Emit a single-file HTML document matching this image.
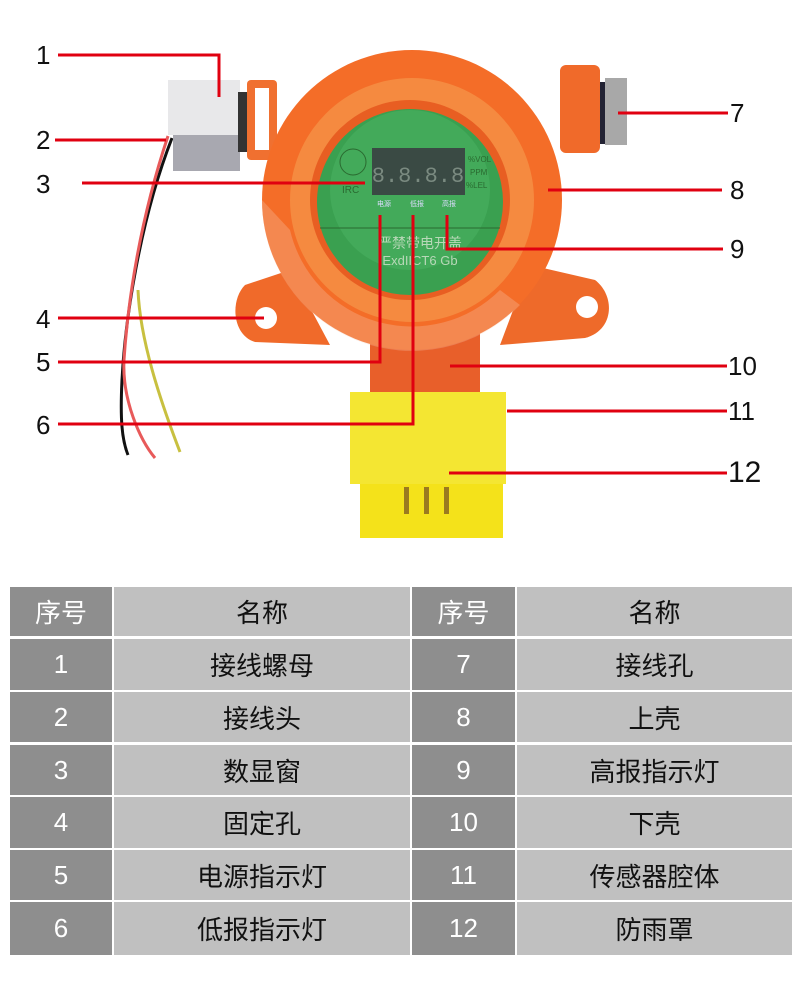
<!DOCTYPE html>
<html><head><meta charset="utf-8"><style>
body{margin:0;width:800px;height:993px;background:#fff;overflow:hidden;font-family:"Liberation Sans","Noto Sans CJK SC",sans-serif;}
svg{position:absolute;left:0;top:0}
.c{position:absolute;display:flex;align-items:center;justify-content:center;font-size:26px;}
.d{background:#8e8e8e;color:#fff;}
.l{background:#c0c0c0;color:#111;}
</style></head><body>
<svg width="800" height="560" viewBox="0 0 800 560">
<path d="M172,138 C140,220 125,320 122,380 C120,420 122,440 128,455" stroke="#111" stroke-width="3" fill="none"/>
<path d="M168,136 C140,220 128,300 124,360 C122,400 140,440 155,458" stroke="#e85a5a" stroke-width="3" fill="none"/>
<path d="M138,290 C140,340 160,400 180,452" stroke="#c8c040" stroke-width="3" fill="none"/>
<rect x="168" y="80" width="72" height="55" fill="#e8e8ea"/>
<rect x="173" y="135" width="67" height="36" fill="#a8a8b0"/>
<rect x="238" y="92" width="10" height="60" fill="#333"/>
<rect x="247" y="80" width="30" height="80" rx="4" fill="#f07030"/>
<rect x="255" y="88" width="14" height="62" fill="#fff"/>
<rect x="560" y="65" width="40" height="88" rx="6" fill="#f06a2a"/>
<rect x="600" y="82" width="6" height="62" fill="#223"/>
<rect x="605" y="78" width="22" height="67" fill="#a8a8a8"/>
<path d="M290,270 L245,285 C230,300 232,335 255,342 L330,345 Z" fill="#f06a2a"/>
<circle cx="266" cy="318" r="11" fill="#fff"/>
<path d="M530,265 L595,280 C615,295 615,330 585,338 L500,345 Z" fill="#ee6a2a"/>
<circle cx="587" cy="307" r="11" fill="#fff"/>
<rect x="370" y="330" width="110" height="70" fill="#e85f2a"/>
<circle cx="412" cy="200" r="150" fill="#f46d28"/>
<path d="M262,200 A150,150 0 0 0 520,305 L500,290 A125,125 0 0 1 290,230 Z" fill="#f5c6b0" opacity="0.3"/>
<circle cx="412" cy="200" r="122" fill="#f58a40"/>
<circle cx="410" cy="200" r="100" fill="#e85e22"/>
<circle cx="410" cy="202" r="93" fill="#3aa050"/>
<circle cx="410" cy="190" r="80" fill="#4ab060" opacity="0.6"/>
<line x1="320" y1="228" x2="500" y2="228" stroke="#2a6a30" stroke-width="1"/>
<rect x="372" y="148" width="93" height="47" fill="#3a4a44"/>
<text x="418" y="182" font-size="22" fill="#7a8a80" text-anchor="middle" font-family="Liberation Mono,monospace">8.8.8.8</text>
<text x="468" y="162" font-size="8" fill="#2a6a30">%VOL</text>
<text x="470" y="175" font-size="8" fill="#2a6a30">PPM</text>
<text x="466" y="188" font-size="8" fill="#2a6a30">%LEL</text>
<circle cx="353" cy="162" r="13" fill="none" stroke="#2a6a30"/>
<text x="342" y="193" font-size="10" fill="#2a6a30">IRC</text>
<text x="377" y="206" font-size="7" fill="#ddf">电源</text><text x="410" y="206" font-size="7" fill="#ddf">低报</text><text x="442" y="206" font-size="7" fill="#ddf">高报</text>
<text x="420" y="248" font-size="14" fill="#b8d8b8" text-anchor="middle">严禁带电开盖</text>
<text x="420" y="265" font-size="13" fill="#b8d8b8" text-anchor="middle">ExdIICT6 Gb</text>
<rect x="360" y="482" width="143" height="56" fill="#f4e21a"/>
<rect x="350" y="392" width="156" height="92" fill="#f4e632"/>
<rect x="404" y="487" width="5" height="27" fill="#9a7a20"/><rect x="424" y="487" width="5" height="27" fill="#9a7a20"/><rect x="444" y="487" width="5" height="27" fill="#9a7a20"/>
<g stroke="#e00010" stroke-width="3" fill="none">
<polyline points="58,55 219,55 219,97"/>
<line x1="55" y1="140" x2="166" y2="140"/>
<line x1="82" y1="183" x2="365" y2="183"/>
<line x1="58" y1="318" x2="264" y2="318"/>
<polyline points="58,362 380,362 380,215"/>
<polyline points="58,424 413,424 413,215"/>
<polyline points="447,215 447,249 723,249"/>
<line x1="618" y1="113" x2="728" y2="113"/>
<line x1="548" y1="190" x2="722" y2="190"/>
<line x1="450" y1="366" x2="727" y2="366"/>
<line x1="507" y1="411" x2="727" y2="411"/>
<line x1="449" y1="473" x2="727" y2="473"/>
</g>
<g font-size="26" fill="#111" font-family="Liberation Sans,sans-serif">
<text x="36" y="64">1</text><text x="36" y="149">2</text><text x="36" y="193">3</text>
<text x="36" y="328">4</text><text x="36" y="371">5</text><text x="36" y="434">6</text>
<text x="730" y="122">7</text><text x="730" y="199">8</text><text x="730" y="258">9</text>
<text x="728" y="375">10</text><text x="728" y="420">11</text><text x="728" y="482" font-size="30">12</text>
</g>
</svg>
<div class="c d" style="left:10px;top:587px;width:102px;height:49px">序号</div>
<div class="c l" style="left:114px;top:587px;width:296px;height:49px">名称</div>
<div class="c d" style="left:412px;top:587px;width:103px;height:49px">序号</div>
<div class="c l" style="left:517px;top:587px;width:275px;height:49px">名称</div>
<div class="c d" style="left:10px;top:639px;width:102px;height:51px">1</div>
<div class="c l" style="left:114px;top:639px;width:296px;height:51px">接线螺母</div>
<div class="c d" style="left:412px;top:639px;width:103px;height:51px">7</div>
<div class="c l" style="left:517px;top:639px;width:275px;height:51px">接线孔</div>
<div class="c d" style="left:10px;top:692px;width:102px;height:50px">2</div>
<div class="c l" style="left:114px;top:692px;width:296px;height:50px">接线头</div>
<div class="c d" style="left:412px;top:692px;width:103px;height:50px">8</div>
<div class="c l" style="left:517px;top:692px;width:275px;height:50px">上壳</div>
<div class="c d" style="left:10px;top:745px;width:102px;height:50px">3</div>
<div class="c l" style="left:114px;top:745px;width:296px;height:50px">数显窗</div>
<div class="c d" style="left:412px;top:745px;width:103px;height:50px">9</div>
<div class="c l" style="left:517px;top:745px;width:275px;height:50px">高报指示灯</div>
<div class="c d" style="left:10px;top:797px;width:102px;height:51px">4</div>
<div class="c l" style="left:114px;top:797px;width:296px;height:51px">固定孔</div>
<div class="c d" style="left:412px;top:797px;width:103px;height:51px">10</div>
<div class="c l" style="left:517px;top:797px;width:275px;height:51px">下壳</div>
<div class="c d" style="left:10px;top:850px;width:102px;height:50px">5</div>
<div class="c l" style="left:114px;top:850px;width:296px;height:50px">电源指示灯</div>
<div class="c d" style="left:412px;top:850px;width:103px;height:50px">11</div>
<div class="c l" style="left:517px;top:850px;width:275px;height:50px">传感器腔体</div>
<div class="c d" style="left:10px;top:902px;width:102px;height:53px">6</div>
<div class="c l" style="left:114px;top:902px;width:296px;height:53px">低报指示灯</div>
<div class="c d" style="left:412px;top:902px;width:103px;height:53px">12</div>
<div class="c l" style="left:517px;top:902px;width:275px;height:53px">防雨罩</div>
</body></html>
